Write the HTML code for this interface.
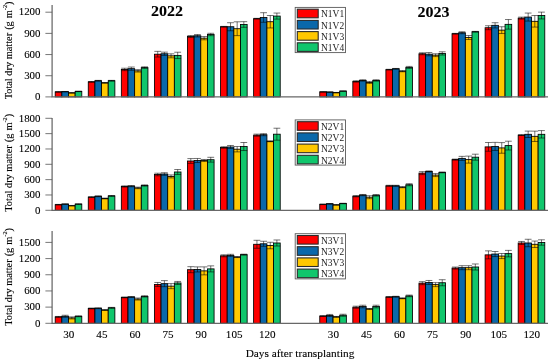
<!DOCTYPE html>
<html><head><meta charset="utf-8"><title>Total dry matter</title>
<style>html,body{margin:0;padding:0;background:#fff}svg{display:block}</style></head>
<body>
<svg width="550" height="361" viewBox="0 0 550 361" font-family="Liberation Serif, Times New Roman, serif">
<rect width="550" height="361" fill="#fff"/>
<rect x="55.20" y="91.89" width="6.65" height="5.01" fill="#ff0000" stroke="#000" stroke-width="0.85"/>
<rect x="61.85" y="91.68" width="6.65" height="5.22" fill="#0a68aa" stroke="#000" stroke-width="0.85"/>
<rect x="68.50" y="92.88" width="6.65" height="4.02" fill="#ffc800" stroke="#000" stroke-width="0.85"/>
<rect x="75.15" y="91.39" width="6.65" height="5.51" fill="#10c66c" stroke="#000" stroke-width="0.85"/>
<path d="M58.53 91.68V92.10M55.13 91.68H61.93M55.13 92.10H61.93" stroke="#000" stroke-width="0.55" fill="none"/>
<path d="M65.17 91.47V91.89M61.77 91.47H68.58M61.77 91.89H68.58" stroke="#000" stroke-width="0.55" fill="none"/>
<path d="M71.83 92.67V93.09M68.42 92.67H75.23M68.42 93.09H75.23" stroke="#000" stroke-width="0.55" fill="none"/>
<path d="M78.48 91.18V91.61M75.08 91.18H81.88M75.08 91.61H81.88" stroke="#000" stroke-width="0.55" fill="none"/>
<rect x="88.27" y="81.87" width="6.65" height="15.03" fill="#ff0000" stroke="#000" stroke-width="0.85"/>
<rect x="94.92" y="80.74" width="6.65" height="16.16" fill="#0a68aa" stroke="#000" stroke-width="0.85"/>
<rect x="101.57" y="82.85" width="6.65" height="14.05" fill="#ffc800" stroke="#000" stroke-width="0.85"/>
<rect x="108.22" y="80.74" width="6.65" height="16.16" fill="#10c66c" stroke="#000" stroke-width="0.85"/>
<path d="M91.59 81.51V82.22M88.19 81.51H95.00M88.19 82.22H95.00" stroke="#000" stroke-width="0.55" fill="none"/>
<path d="M98.25 80.38V81.09M94.84 80.38H101.65M94.84 81.09H101.65" stroke="#000" stroke-width="0.55" fill="none"/>
<path d="M104.89 82.50V83.21M101.49 82.50H108.30M101.49 83.21H108.30" stroke="#000" stroke-width="0.55" fill="none"/>
<path d="M111.55 80.38V81.09M108.14 80.38H114.95M108.14 81.09H114.95" stroke="#000" stroke-width="0.55" fill="none"/>
<rect x="121.34" y="69.44" width="6.65" height="27.46" fill="#ff0000" stroke="#000" stroke-width="0.85"/>
<rect x="127.99" y="68.67" width="6.65" height="28.23" fill="#0a68aa" stroke="#000" stroke-width="0.85"/>
<rect x="134.64" y="70.85" width="6.65" height="26.05" fill="#ffc800" stroke="#000" stroke-width="0.85"/>
<rect x="141.29" y="67.61" width="6.65" height="29.29" fill="#10c66c" stroke="#000" stroke-width="0.85"/>
<path d="M124.66 68.24V70.64M121.26 68.24H128.06M121.26 70.64H128.06" stroke="#000" stroke-width="0.55" fill="none"/>
<path d="M131.31 67.04V70.29M127.91 67.04H134.72M127.91 70.29H134.72" stroke="#000" stroke-width="0.55" fill="none"/>
<path d="M137.96 69.65V72.05M134.56 69.65H141.36M134.56 72.05H141.36" stroke="#000" stroke-width="0.55" fill="none"/>
<path d="M144.61 66.83V68.38M141.21 66.83H148.01M141.21 68.38H148.01" stroke="#000" stroke-width="0.55" fill="none"/>
<rect x="154.41" y="54.20" width="6.65" height="42.70" fill="#ff0000" stroke="#000" stroke-width="0.85"/>
<rect x="161.06" y="53.77" width="6.65" height="43.13" fill="#0a68aa" stroke="#000" stroke-width="0.85"/>
<rect x="167.71" y="55.82" width="6.65" height="41.08" fill="#ffc800" stroke="#000" stroke-width="0.85"/>
<rect x="174.36" y="55.40" width="6.65" height="41.50" fill="#10c66c" stroke="#000" stroke-width="0.85"/>
<path d="M157.73 51.37V57.02M154.33 51.37H161.13M154.33 57.02H161.13" stroke="#000" stroke-width="0.55" fill="none"/>
<path d="M164.38 52.15V55.40M160.98 52.15H167.78M160.98 55.40H167.78" stroke="#000" stroke-width="0.55" fill="none"/>
<path d="M171.03 53.84V57.80M167.63 53.84H174.44M167.63 57.80H174.44" stroke="#000" stroke-width="0.55" fill="none"/>
<path d="M177.69 52.22V58.57M174.28 52.22H181.09M174.28 58.57H181.09" stroke="#000" stroke-width="0.55" fill="none"/>
<rect x="187.48" y="36.55" width="6.65" height="60.35" fill="#ff0000" stroke="#000" stroke-width="0.85"/>
<rect x="194.13" y="35.77" width="6.65" height="61.13" fill="#0a68aa" stroke="#000" stroke-width="0.85"/>
<rect x="200.78" y="38.17" width="6.65" height="58.73" fill="#ffc800" stroke="#000" stroke-width="0.85"/>
<rect x="207.43" y="34.50" width="6.65" height="62.40" fill="#10c66c" stroke="#000" stroke-width="0.85"/>
<path d="M190.80 35.56V37.54M187.40 35.56H194.20M187.40 37.54H194.20" stroke="#000" stroke-width="0.55" fill="none"/>
<path d="M197.45 34.57V36.97M194.05 34.57H200.85M194.05 36.97H200.85" stroke="#000" stroke-width="0.55" fill="none"/>
<path d="M204.10 36.55V39.80M200.70 36.55H207.50M200.70 39.80H207.50" stroke="#000" stroke-width="0.55" fill="none"/>
<path d="M210.75 33.30V35.70M207.35 33.30H214.16M207.35 35.70H214.16" stroke="#000" stroke-width="0.55" fill="none"/>
<rect x="220.55" y="26.74" width="6.65" height="70.16" fill="#ff0000" stroke="#000" stroke-width="0.85"/>
<rect x="227.20" y="26.74" width="6.65" height="70.16" fill="#0a68aa" stroke="#000" stroke-width="0.85"/>
<rect x="233.85" y="28.72" width="6.65" height="68.18" fill="#ffc800" stroke="#000" stroke-width="0.85"/>
<rect x="240.50" y="24.48" width="6.65" height="72.42" fill="#10c66c" stroke="#000" stroke-width="0.85"/>
<path d="M223.87 26.39V27.09M220.47 26.39H227.27M220.47 27.09H227.27" stroke="#000" stroke-width="0.55" fill="none"/>
<path d="M230.52 22.72V30.76M227.12 22.72H233.92M227.12 30.76H233.92" stroke="#000" stroke-width="0.55" fill="none"/>
<path d="M237.17 21.80V35.63M233.77 21.80H240.57M233.77 35.63H240.57" stroke="#000" stroke-width="0.55" fill="none"/>
<path d="M243.82 21.66V27.30M240.42 21.66H247.22M240.42 27.30H247.22" stroke="#000" stroke-width="0.55" fill="none"/>
<rect x="253.62" y="18.69" width="6.65" height="78.21" fill="#ff0000" stroke="#000" stroke-width="0.85"/>
<rect x="260.27" y="17.49" width="6.65" height="79.41" fill="#0a68aa" stroke="#000" stroke-width="0.85"/>
<rect x="266.92" y="21.73" width="6.65" height="75.17" fill="#ffc800" stroke="#000" stroke-width="0.85"/>
<rect x="273.57" y="16.08" width="6.65" height="80.82" fill="#10c66c" stroke="#000" stroke-width="0.85"/>
<path d="M256.94 18.34V19.05M253.54 18.34H260.34M253.54 19.05H260.34" stroke="#000" stroke-width="0.55" fill="none"/>
<path d="M263.59 12.69V22.29M260.19 12.69H266.99M260.19 22.29H266.99" stroke="#000" stroke-width="0.55" fill="none"/>
<path d="M270.25 15.52V27.94M266.85 15.52H273.64M266.85 27.94H273.64" stroke="#000" stroke-width="0.55" fill="none"/>
<path d="M276.89 13.05V19.12M273.50 13.05H280.29M273.50 19.12H280.29" stroke="#000" stroke-width="0.55" fill="none"/>
<rect x="319.76" y="91.89" width="6.65" height="5.01" fill="#ff0000" stroke="#000" stroke-width="0.85"/>
<rect x="326.41" y="92.10" width="6.65" height="4.80" fill="#0a68aa" stroke="#000" stroke-width="0.85"/>
<rect x="333.06" y="92.67" width="6.65" height="4.23" fill="#ffc800" stroke="#000" stroke-width="0.85"/>
<rect x="339.71" y="91.11" width="6.65" height="5.79" fill="#10c66c" stroke="#000" stroke-width="0.85"/>
<path d="M323.08 91.68V92.10M319.69 91.68H326.48M319.69 92.10H326.48" stroke="#000" stroke-width="0.55" fill="none"/>
<path d="M329.73 91.89V92.31M326.33 91.89H333.13M326.33 92.31H333.13" stroke="#000" stroke-width="0.55" fill="none"/>
<path d="M336.38 92.45V92.88M332.99 92.45H339.78M332.99 92.88H339.78" stroke="#000" stroke-width="0.55" fill="none"/>
<path d="M343.03 90.90V91.32M339.63 90.90H346.43M339.63 91.32H346.43" stroke="#000" stroke-width="0.55" fill="none"/>
<rect x="352.83" y="81.44" width="6.65" height="15.46" fill="#ff0000" stroke="#000" stroke-width="0.85"/>
<rect x="359.48" y="80.45" width="6.65" height="16.45" fill="#0a68aa" stroke="#000" stroke-width="0.85"/>
<rect x="366.13" y="82.43" width="6.65" height="14.47" fill="#ffc800" stroke="#000" stroke-width="0.85"/>
<rect x="372.78" y="80.45" width="6.65" height="16.45" fill="#10c66c" stroke="#000" stroke-width="0.85"/>
<path d="M356.15 80.74V82.15M352.75 80.74H359.55M352.75 82.15H359.55" stroke="#000" stroke-width="0.55" fill="none"/>
<path d="M362.80 79.75V81.16M359.40 79.75H366.20M359.40 81.16H366.20" stroke="#000" stroke-width="0.55" fill="none"/>
<path d="M369.45 81.44V83.42M366.06 81.44H372.85M366.06 83.42H372.85" stroke="#000" stroke-width="0.55" fill="none"/>
<path d="M376.10 79.75V81.16M372.70 79.75H379.50M372.70 81.16H379.50" stroke="#000" stroke-width="0.55" fill="none"/>
<rect x="385.90" y="69.65" width="6.65" height="27.25" fill="#ff0000" stroke="#000" stroke-width="0.85"/>
<rect x="392.55" y="68.81" width="6.65" height="28.09" fill="#0a68aa" stroke="#000" stroke-width="0.85"/>
<rect x="399.20" y="71.21" width="6.65" height="25.69" fill="#ffc800" stroke="#000" stroke-width="0.85"/>
<rect x="405.85" y="67.40" width="6.65" height="29.50" fill="#10c66c" stroke="#000" stroke-width="0.85"/>
<path d="M389.22 69.30V70.01M385.82 69.30H392.62M385.82 70.01H392.62" stroke="#000" stroke-width="0.55" fill="none"/>
<path d="M395.87 68.45V69.16M392.47 68.45H399.27M392.47 69.16H399.27" stroke="#000" stroke-width="0.55" fill="none"/>
<path d="M402.52 70.64V71.77M399.12 70.64H405.92M399.12 71.77H405.92" stroke="#000" stroke-width="0.55" fill="none"/>
<path d="M409.17 66.41V68.38M405.77 66.41H412.57M405.77 68.38H412.57" stroke="#000" stroke-width="0.55" fill="none"/>
<rect x="418.97" y="53.77" width="6.65" height="43.13" fill="#ff0000" stroke="#000" stroke-width="0.85"/>
<rect x="425.62" y="54.20" width="6.65" height="42.70" fill="#0a68aa" stroke="#000" stroke-width="0.85"/>
<rect x="432.27" y="55.19" width="6.65" height="41.71" fill="#ffc800" stroke="#000" stroke-width="0.85"/>
<rect x="438.92" y="53.42" width="6.65" height="43.48" fill="#10c66c" stroke="#000" stroke-width="0.85"/>
<path d="M422.29 52.79V54.76M418.89 52.79H425.69M418.89 54.76H425.69" stroke="#000" stroke-width="0.55" fill="none"/>
<path d="M428.94 52.57V55.82M425.54 52.57H432.34M425.54 55.82H432.34" stroke="#000" stroke-width="0.55" fill="none"/>
<path d="M435.59 53.77V56.60M432.19 53.77H438.99M432.19 56.60H438.99" stroke="#000" stroke-width="0.55" fill="none"/>
<path d="M442.24 51.80V55.04M438.84 51.80H445.64M438.84 55.04H445.64" stroke="#000" stroke-width="0.55" fill="none"/>
<rect x="452.04" y="33.73" width="6.65" height="63.17" fill="#ff0000" stroke="#000" stroke-width="0.85"/>
<rect x="458.69" y="32.74" width="6.65" height="64.16" fill="#0a68aa" stroke="#000" stroke-width="0.85"/>
<rect x="465.34" y="37.54" width="6.65" height="59.36" fill="#ffc800" stroke="#000" stroke-width="0.85"/>
<rect x="471.99" y="31.75" width="6.65" height="65.15" fill="#10c66c" stroke="#000" stroke-width="0.85"/>
<path d="M455.37 33.38V34.08M451.97 33.38H458.76M451.97 34.08H458.76" stroke="#000" stroke-width="0.55" fill="none"/>
<path d="M462.01 31.75V33.73M458.62 31.75H465.41M458.62 33.73H465.41" stroke="#000" stroke-width="0.55" fill="none"/>
<path d="M468.67 35.56V39.52M465.27 35.56H472.06M465.27 39.52H472.06" stroke="#000" stroke-width="0.55" fill="none"/>
<path d="M475.31 31.40V32.10M471.92 31.40H478.71M471.92 32.10H478.71" stroke="#000" stroke-width="0.55" fill="none"/>
<rect x="485.11" y="27.73" width="6.65" height="69.17" fill="#ff0000" stroke="#000" stroke-width="0.85"/>
<rect x="491.76" y="25.33" width="6.65" height="71.57" fill="#0a68aa" stroke="#000" stroke-width="0.85"/>
<rect x="498.41" y="30.13" width="6.65" height="66.77" fill="#ffc800" stroke="#000" stroke-width="0.85"/>
<rect x="505.06" y="24.34" width="6.65" height="72.56" fill="#10c66c" stroke="#000" stroke-width="0.85"/>
<path d="M488.44 25.75V29.70M485.04 25.75H491.83M485.04 29.70H491.83" stroke="#000" stroke-width="0.55" fill="none"/>
<path d="M495.08 22.72V27.94M491.69 22.72H498.48M491.69 27.94H498.48" stroke="#000" stroke-width="0.55" fill="none"/>
<path d="M501.74 26.74V33.52M498.34 26.74H505.13M498.34 33.52H505.13" stroke="#000" stroke-width="0.55" fill="none"/>
<path d="M508.38 19.54V29.14M504.99 19.54H511.78M504.99 29.14H511.78" stroke="#000" stroke-width="0.55" fill="none"/>
<rect x="518.18" y="18.13" width="6.65" height="78.77" fill="#ff0000" stroke="#000" stroke-width="0.85"/>
<rect x="524.83" y="17.07" width="6.65" height="79.83" fill="#0a68aa" stroke="#000" stroke-width="0.85"/>
<rect x="531.48" y="21.31" width="6.65" height="75.59" fill="#ffc800" stroke="#000" stroke-width="0.85"/>
<rect x="538.13" y="15.52" width="6.65" height="81.38" fill="#10c66c" stroke="#000" stroke-width="0.85"/>
<path d="M521.51 17.14V19.12M518.11 17.14H524.91M518.11 19.12H524.91" stroke="#000" stroke-width="0.55" fill="none"/>
<path d="M528.16 13.05V21.09M524.76 13.05H531.56M524.76 21.09H531.56" stroke="#000" stroke-width="0.55" fill="none"/>
<path d="M534.81 15.52V27.09M531.41 15.52H538.21M531.41 27.09H538.21" stroke="#000" stroke-width="0.55" fill="none"/>
<path d="M541.46 12.13V18.91M538.06 12.13H544.86M538.06 18.91H544.86" stroke="#000" stroke-width="0.55" fill="none"/>
<path d="M52.1 5.0V96.9H548" stroke="#686868" stroke-width="1.25" fill="none"/>
<path d="M45.40 96.90H52.1" stroke="#555" stroke-width="0.8" fill="none"/>
<text transform="translate(40.50 100.10) scale(1.0 1)" font-size="10.9" text-anchor="end" fill="#000" stroke="#000" stroke-width="0.1">0</text>
<path d="M45.40 75.73H52.1" stroke="#555" stroke-width="0.8" fill="none"/>
<text transform="translate(40.50 78.93) scale(1.0 1)" font-size="10.9" text-anchor="end" fill="#000" stroke="#000" stroke-width="0.1">300</text>
<path d="M45.40 54.55H52.1" stroke="#555" stroke-width="0.8" fill="none"/>
<text transform="translate(40.50 57.75) scale(1.0 1)" font-size="10.9" text-anchor="end" fill="#000" stroke="#000" stroke-width="0.1">600</text>
<path d="M45.40 33.38H52.1" stroke="#555" stroke-width="0.8" fill="none"/>
<text transform="translate(40.50 36.58) scale(1.0 1)" font-size="10.9" text-anchor="end" fill="#000" stroke="#000" stroke-width="0.1">900</text>
<path d="M45.40 12.20H52.1" stroke="#555" stroke-width="0.8" fill="none"/>
<text transform="translate(40.50 15.40) scale(1.0 1)" font-size="10.9" text-anchor="end" fill="#000" stroke="#000" stroke-width="0.1">1200</text>
<text transform="translate(12.1 50.45) rotate(-90)" font-size="10.35" text-anchor="middle" fill="#000" stroke="#000" stroke-width="0.1">Total dry matter<tspan dx="0.45"> (g</tspan><tspan dx="0.45"> m</tspan><tspan font-size="6.2" dy="-4.8">-2</tspan><tspan dy="4.8">)</tspan></text>
<rect x="295.2" y="7.4" width="50.3" height="45.2" fill="#fff" stroke="#5a5a5a" stroke-width="0.9"/>
<rect x="297.3" y="9.20" width="20.9" height="8.6" fill="#ff0000" stroke="#2a2a2a" stroke-width="1.1"/>
<text transform="translate(321.00 17.40) scale(1.01 1)" font-size="9.4" text-anchor="start" fill="#1c1c1c" stroke="#1c1c1c" stroke-width="0">N1V1</text>
<rect x="297.3" y="20.40" width="20.9" height="8.6" fill="#0a68aa" stroke="#2a2a2a" stroke-width="1.1"/>
<text transform="translate(321.00 28.60) scale(1.01 1)" font-size="9.4" text-anchor="start" fill="#1c1c1c" stroke="#1c1c1c" stroke-width="0">N1V2</text>
<rect x="297.3" y="31.60" width="20.9" height="8.6" fill="#ffc800" stroke="#2a2a2a" stroke-width="1.1"/>
<text transform="translate(321.00 39.80) scale(1.01 1)" font-size="9.4" text-anchor="start" fill="#1c1c1c" stroke="#1c1c1c" stroke-width="0">N1V3</text>
<rect x="297.3" y="42.80" width="20.9" height="8.6" fill="#10c66c" stroke="#2a2a2a" stroke-width="1.1"/>
<text transform="translate(321.00 51.00) scale(1.01 1)" font-size="9.4" text-anchor="start" fill="#1c1c1c" stroke="#1c1c1c" stroke-width="0">N1V4</text>
<rect x="55.20" y="204.68" width="6.65" height="5.62" fill="#ff0000" stroke="#000" stroke-width="0.85"/>
<rect x="61.85" y="204.11" width="6.65" height="6.19" fill="#0a68aa" stroke="#000" stroke-width="0.85"/>
<rect x="68.50" y="205.71" width="6.65" height="4.59" fill="#ffc800" stroke="#000" stroke-width="0.85"/>
<rect x="75.15" y="204.11" width="6.65" height="6.19" fill="#10c66c" stroke="#000" stroke-width="0.85"/>
<path d="M58.53 204.42V204.94M55.13 204.42H61.93M55.13 204.94H61.93" stroke="#000" stroke-width="0.55" fill="none"/>
<path d="M65.17 203.85V204.37M61.77 203.85H68.58M61.77 204.37H68.58" stroke="#000" stroke-width="0.55" fill="none"/>
<path d="M71.83 205.45V205.97M68.42 205.45H75.23M68.42 205.97H75.23" stroke="#000" stroke-width="0.55" fill="none"/>
<path d="M78.48 203.85V204.37M75.08 203.85H81.88M75.08 204.37H81.88" stroke="#000" stroke-width="0.55" fill="none"/>
<rect x="88.27" y="197.10" width="6.65" height="13.20" fill="#ff0000" stroke="#000" stroke-width="0.85"/>
<rect x="94.92" y="196.28" width="6.65" height="14.02" fill="#0a68aa" stroke="#000" stroke-width="0.85"/>
<rect x="101.57" y="198.49" width="6.65" height="11.81" fill="#ffc800" stroke="#000" stroke-width="0.85"/>
<rect x="108.22" y="195.91" width="6.65" height="14.39" fill="#10c66c" stroke="#000" stroke-width="0.85"/>
<path d="M91.59 196.69V197.51M88.19 196.69H95.00M88.19 197.51H95.00" stroke="#000" stroke-width="0.55" fill="none"/>
<path d="M98.25 195.86V196.69M94.84 195.86H101.65M94.84 196.69H101.65" stroke="#000" stroke-width="0.55" fill="none"/>
<path d="M104.89 198.08V198.91M101.49 198.08H108.30M101.49 198.91H108.30" stroke="#000" stroke-width="0.55" fill="none"/>
<path d="M111.55 195.50V196.33M108.14 195.50H114.95M108.14 196.33H114.95" stroke="#000" stroke-width="0.55" fill="none"/>
<rect x="121.34" y="186.48" width="6.65" height="23.82" fill="#ff0000" stroke="#000" stroke-width="0.85"/>
<rect x="127.99" y="186.12" width="6.65" height="24.18" fill="#0a68aa" stroke="#000" stroke-width="0.85"/>
<rect x="134.64" y="187.92" width="6.65" height="22.38" fill="#ffc800" stroke="#000" stroke-width="0.85"/>
<rect x="141.29" y="185.50" width="6.65" height="24.80" fill="#10c66c" stroke="#000" stroke-width="0.85"/>
<path d="M124.66 185.86V187.10M121.26 185.86H128.06M121.26 187.10H128.06" stroke="#000" stroke-width="0.55" fill="none"/>
<path d="M131.31 185.50V186.74M127.91 185.50H134.72M127.91 186.74H134.72" stroke="#000" stroke-width="0.55" fill="none"/>
<path d="M137.96 187.15V188.70M134.56 187.15H141.36M134.56 188.70H141.36" stroke="#000" stroke-width="0.55" fill="none"/>
<path d="M144.61 184.88V186.12M141.21 184.88H148.01M141.21 186.12H148.01" stroke="#000" stroke-width="0.55" fill="none"/>
<rect x="154.41" y="174.52" width="6.65" height="35.78" fill="#ff0000" stroke="#000" stroke-width="0.85"/>
<rect x="161.06" y="174.00" width="6.65" height="36.30" fill="#0a68aa" stroke="#000" stroke-width="0.85"/>
<rect x="167.71" y="176.42" width="6.65" height="33.88" fill="#ffc800" stroke="#000" stroke-width="0.85"/>
<rect x="174.36" y="171.99" width="6.65" height="38.31" fill="#10c66c" stroke="#000" stroke-width="0.85"/>
<path d="M157.73 173.23V175.81M154.33 173.23H161.13M154.33 175.81H161.13" stroke="#000" stroke-width="0.55" fill="none"/>
<path d="M164.38 172.71V175.29M160.98 172.71H167.78M160.98 175.29H167.78" stroke="#000" stroke-width="0.55" fill="none"/>
<path d="M171.03 174.93V177.92M167.63 174.93H174.44M167.63 177.92H174.44" stroke="#000" stroke-width="0.55" fill="none"/>
<path d="M177.69 169.52V174.47M174.28 169.52H181.09M174.28 174.47H181.09" stroke="#000" stroke-width="0.55" fill="none"/>
<rect x="187.48" y="161.01" width="6.65" height="49.29" fill="#ff0000" stroke="#000" stroke-width="0.85"/>
<rect x="194.13" y="160.49" width="6.65" height="49.81" fill="#0a68aa" stroke="#000" stroke-width="0.85"/>
<rect x="200.78" y="160.49" width="6.65" height="49.81" fill="#ffc800" stroke="#000" stroke-width="0.85"/>
<rect x="207.43" y="159.72" width="6.65" height="50.58" fill="#10c66c" stroke="#000" stroke-width="0.85"/>
<path d="M190.80 158.58V163.43M187.40 158.58H194.20M187.40 163.43H194.20" stroke="#000" stroke-width="0.55" fill="none"/>
<path d="M197.45 158.48V162.50M194.05 158.48H200.85M194.05 162.50H200.85" stroke="#000" stroke-width="0.55" fill="none"/>
<path d="M204.10 159.46V161.52M200.70 159.46H207.50M200.70 161.52H207.50" stroke="#000" stroke-width="0.55" fill="none"/>
<path d="M210.75 157.30V162.14M207.35 157.30H214.16M207.35 162.14H214.16" stroke="#000" stroke-width="0.55" fill="none"/>
<rect x="220.55" y="147.50" width="6.65" height="62.80" fill="#ff0000" stroke="#000" stroke-width="0.85"/>
<rect x="227.20" y="146.98" width="6.65" height="63.32" fill="#0a68aa" stroke="#000" stroke-width="0.85"/>
<rect x="233.85" y="149.20" width="6.65" height="61.10" fill="#ffc800" stroke="#000" stroke-width="0.85"/>
<rect x="240.50" y="146.52" width="6.65" height="63.78" fill="#10c66c" stroke="#000" stroke-width="0.85"/>
<path d="M223.87 146.73V148.27M220.47 146.73H227.27M220.47 148.27H227.27" stroke="#000" stroke-width="0.55" fill="none"/>
<path d="M230.52 145.49V148.48M227.12 145.49H233.92M227.12 148.48H233.92" stroke="#000" stroke-width="0.55" fill="none"/>
<path d="M237.17 146.52V151.88M233.77 146.52H240.57M233.77 151.88H240.57" stroke="#000" stroke-width="0.55" fill="none"/>
<path d="M243.82 142.50V150.54M240.42 142.50H247.22M240.42 150.54H247.22" stroke="#000" stroke-width="0.55" fill="none"/>
<rect x="253.62" y="135.18" width="6.65" height="75.12" fill="#ff0000" stroke="#000" stroke-width="0.85"/>
<rect x="260.27" y="134.71" width="6.65" height="75.59" fill="#0a68aa" stroke="#000" stroke-width="0.85"/>
<rect x="266.92" y="141.31" width="6.65" height="68.99" fill="#ffc800" stroke="#000" stroke-width="0.85"/>
<rect x="273.57" y="134.20" width="6.65" height="76.10" fill="#10c66c" stroke="#000" stroke-width="0.85"/>
<path d="M256.94 134.14V136.21M253.54 134.14H260.34M253.54 136.21H260.34" stroke="#000" stroke-width="0.55" fill="none"/>
<path d="M263.59 133.68V135.74M260.19 133.68H266.99M260.19 135.74H266.99" stroke="#000" stroke-width="0.55" fill="none"/>
<path d="M270.25 140.90V141.72M266.85 140.90H273.64M266.85 141.72H273.64" stroke="#000" stroke-width="0.55" fill="none"/>
<path d="M276.89 128.22V140.18M273.50 128.22H280.29M273.50 140.18H280.29" stroke="#000" stroke-width="0.55" fill="none"/>
<rect x="319.76" y="204.32" width="6.65" height="5.98" fill="#ff0000" stroke="#000" stroke-width="0.85"/>
<rect x="326.41" y="203.80" width="6.65" height="6.50" fill="#0a68aa" stroke="#000" stroke-width="0.85"/>
<rect x="333.06" y="204.89" width="6.65" height="5.41" fill="#ffc800" stroke="#000" stroke-width="0.85"/>
<rect x="339.71" y="203.49" width="6.65" height="6.81" fill="#10c66c" stroke="#000" stroke-width="0.85"/>
<path d="M323.08 204.06V204.58M319.69 204.06H326.48M319.69 204.58H326.48" stroke="#000" stroke-width="0.55" fill="none"/>
<path d="M329.73 203.55V204.06M326.33 203.55H333.13M326.33 204.06H333.13" stroke="#000" stroke-width="0.55" fill="none"/>
<path d="M336.38 204.63V205.14M332.99 204.63H339.78M332.99 205.14H339.78" stroke="#000" stroke-width="0.55" fill="none"/>
<path d="M343.03 203.24V203.75M339.63 203.24H346.43M339.63 203.75H346.43" stroke="#000" stroke-width="0.55" fill="none"/>
<rect x="352.83" y="196.22" width="6.65" height="14.08" fill="#ff0000" stroke="#000" stroke-width="0.85"/>
<rect x="359.48" y="195.09" width="6.65" height="15.21" fill="#0a68aa" stroke="#000" stroke-width="0.85"/>
<rect x="366.13" y="197.20" width="6.65" height="13.10" fill="#ffc800" stroke="#000" stroke-width="0.85"/>
<rect x="372.78" y="195.30" width="6.65" height="15.00" fill="#10c66c" stroke="#000" stroke-width="0.85"/>
<path d="M356.15 195.61V196.84M352.75 195.61H359.55M352.75 196.84H359.55" stroke="#000" stroke-width="0.55" fill="none"/>
<path d="M362.80 194.47V195.71M359.40 194.47H366.20M359.40 195.71H366.20" stroke="#000" stroke-width="0.55" fill="none"/>
<path d="M369.45 195.71V198.70M366.06 195.71H372.85M366.06 198.70H372.85" stroke="#000" stroke-width="0.55" fill="none"/>
<path d="M376.10 194.52V196.07M372.70 194.52H379.50M372.70 196.07H379.50" stroke="#000" stroke-width="0.55" fill="none"/>
<rect x="385.90" y="185.81" width="6.65" height="24.49" fill="#ff0000" stroke="#000" stroke-width="0.85"/>
<rect x="392.55" y="185.81" width="6.65" height="24.49" fill="#0a68aa" stroke="#000" stroke-width="0.85"/>
<rect x="399.20" y="187.20" width="6.65" height="23.10" fill="#ffc800" stroke="#000" stroke-width="0.85"/>
<rect x="405.85" y="184.73" width="6.65" height="25.57" fill="#10c66c" stroke="#000" stroke-width="0.85"/>
<path d="M389.22 185.29V186.32M385.82 185.29H392.62M385.82 186.32H392.62" stroke="#000" stroke-width="0.55" fill="none"/>
<path d="M395.87 185.29V186.32M392.47 185.29H399.27M392.47 186.32H399.27" stroke="#000" stroke-width="0.55" fill="none"/>
<path d="M402.52 186.69V187.72M399.12 186.69H405.92M399.12 187.72H405.92" stroke="#000" stroke-width="0.55" fill="none"/>
<path d="M409.17 183.69V185.76M405.77 183.69H412.57M405.77 185.76H412.57" stroke="#000" stroke-width="0.55" fill="none"/>
<rect x="418.97" y="173.12" width="6.65" height="37.18" fill="#ff0000" stroke="#000" stroke-width="0.85"/>
<rect x="425.62" y="171.42" width="6.65" height="38.88" fill="#0a68aa" stroke="#000" stroke-width="0.85"/>
<rect x="432.27" y="175.08" width="6.65" height="35.22" fill="#ffc800" stroke="#000" stroke-width="0.85"/>
<rect x="438.92" y="172.40" width="6.65" height="37.90" fill="#10c66c" stroke="#000" stroke-width="0.85"/>
<path d="M422.29 171.63V174.62M418.89 171.63H425.69M418.89 174.62H425.69" stroke="#000" stroke-width="0.55" fill="none"/>
<path d="M428.94 170.91V171.94M425.54 170.91H432.34M425.54 171.94H432.34" stroke="#000" stroke-width="0.55" fill="none"/>
<path d="M435.59 173.59V176.58M432.19 173.59H438.99M432.19 176.58H438.99" stroke="#000" stroke-width="0.55" fill="none"/>
<path d="M442.24 171.99V172.82M438.84 171.99H445.64M438.84 172.82H445.64" stroke="#000" stroke-width="0.55" fill="none"/>
<rect x="452.04" y="159.62" width="6.65" height="50.68" fill="#ff0000" stroke="#000" stroke-width="0.85"/>
<rect x="458.69" y="158.38" width="6.65" height="51.92" fill="#0a68aa" stroke="#000" stroke-width="0.85"/>
<rect x="465.34" y="159.62" width="6.65" height="50.68" fill="#ffc800" stroke="#000" stroke-width="0.85"/>
<rect x="471.99" y="157.19" width="6.65" height="53.11" fill="#10c66c" stroke="#000" stroke-width="0.85"/>
<path d="M455.37 159.10V160.13M451.97 159.10H458.76M451.97 160.13H458.76" stroke="#000" stroke-width="0.55" fill="none"/>
<path d="M462.01 156.37V160.39M458.62 156.37H465.41M458.62 160.39H465.41" stroke="#000" stroke-width="0.55" fill="none"/>
<path d="M468.67 156.11V163.12M465.27 156.11H472.06M465.27 163.12H472.06" stroke="#000" stroke-width="0.55" fill="none"/>
<path d="M475.31 154.20V160.18M471.92 154.20H478.71M471.92 160.18H478.71" stroke="#000" stroke-width="0.55" fill="none"/>
<rect x="485.11" y="146.88" width="6.65" height="63.42" fill="#ff0000" stroke="#000" stroke-width="0.85"/>
<rect x="491.76" y="146.42" width="6.65" height="63.88" fill="#0a68aa" stroke="#000" stroke-width="0.85"/>
<rect x="498.41" y="147.91" width="6.65" height="62.39" fill="#ffc800" stroke="#000" stroke-width="0.85"/>
<rect x="505.06" y="145.59" width="6.65" height="64.71" fill="#10c66c" stroke="#000" stroke-width="0.85"/>
<path d="M488.44 142.50V151.26M485.04 142.50H491.83M485.04 151.26H491.83" stroke="#000" stroke-width="0.55" fill="none"/>
<path d="M495.08 142.39V150.44M491.69 142.39H498.48M491.69 150.44H498.48" stroke="#000" stroke-width="0.55" fill="none"/>
<path d="M501.74 142.60V153.22M498.34 142.60H505.13M498.34 153.22H505.13" stroke="#000" stroke-width="0.55" fill="none"/>
<path d="M508.38 141.21V149.97M504.99 141.21H511.78M504.99 149.97H511.78" stroke="#000" stroke-width="0.55" fill="none"/>
<rect x="518.18" y="135.12" width="6.65" height="75.18" fill="#ff0000" stroke="#000" stroke-width="0.85"/>
<rect x="524.83" y="134.30" width="6.65" height="76.00" fill="#0a68aa" stroke="#000" stroke-width="0.85"/>
<rect x="531.48" y="136.31" width="6.65" height="73.99" fill="#ffc800" stroke="#000" stroke-width="0.85"/>
<rect x="538.13" y="134.30" width="6.65" height="76.00" fill="#10c66c" stroke="#000" stroke-width="0.85"/>
<path d="M521.51 134.71V135.54M518.11 134.71H524.91M518.11 135.54H524.91" stroke="#000" stroke-width="0.55" fill="none"/>
<path d="M528.16 131.10V137.50M524.76 131.10H531.56M524.76 137.50H531.56" stroke="#000" stroke-width="0.55" fill="none"/>
<path d="M534.81 131.15V141.47M531.41 131.15H538.21M531.41 141.47H538.21" stroke="#000" stroke-width="0.55" fill="none"/>
<path d="M541.46 130.59V138.01M538.06 130.59H544.86M538.06 138.01H544.86" stroke="#000" stroke-width="0.55" fill="none"/>
<path d="M52.1 117.9V210.3H548" stroke="#686868" stroke-width="1.25" fill="none"/>
<path d="M45.40 210.30H52.1" stroke="#555" stroke-width="0.8" fill="none"/>
<text transform="translate(40.50 213.50) scale(1.0 1)" font-size="10.9" text-anchor="end" fill="#000" stroke="#000" stroke-width="0.1">0</text>
<path d="M45.40 194.97H52.1" stroke="#555" stroke-width="0.8" fill="none"/>
<text transform="translate(40.50 198.17) scale(1.0 1)" font-size="10.9" text-anchor="end" fill="#000" stroke="#000" stroke-width="0.1">300</text>
<path d="M45.40 179.63H52.1" stroke="#555" stroke-width="0.8" fill="none"/>
<text transform="translate(40.50 182.83) scale(1.0 1)" font-size="10.9" text-anchor="end" fill="#000" stroke="#000" stroke-width="0.1">600</text>
<path d="M45.40 164.30H52.1" stroke="#555" stroke-width="0.8" fill="none"/>
<text transform="translate(40.50 167.50) scale(1.0 1)" font-size="10.9" text-anchor="end" fill="#000" stroke="#000" stroke-width="0.1">900</text>
<path d="M45.40 148.97H52.1" stroke="#555" stroke-width="0.8" fill="none"/>
<text transform="translate(40.50 152.17) scale(1.0 1)" font-size="10.9" text-anchor="end" fill="#000" stroke="#000" stroke-width="0.1">1200</text>
<path d="M45.40 133.63H52.1" stroke="#555" stroke-width="0.8" fill="none"/>
<text transform="translate(40.50 136.83) scale(1.0 1)" font-size="10.9" text-anchor="end" fill="#000" stroke="#000" stroke-width="0.1">1500</text>
<path d="M45.40 118.30H52.1" stroke="#555" stroke-width="0.8" fill="none"/>
<text transform="translate(40.50 121.50) scale(1.0 1)" font-size="10.9" text-anchor="end" fill="#000" stroke="#000" stroke-width="0.1">1800</text>
<text transform="translate(12.1 162.80) rotate(-90)" font-size="10.35" text-anchor="middle" fill="#000" stroke="#000" stroke-width="0.1">Total dry matter<tspan dx="0.45"> (g</tspan><tspan dx="0.45"> m</tspan><tspan font-size="6.2" dy="-4.8">-2</tspan><tspan dy="4.8">)</tspan></text>
<rect x="295.2" y="119.9" width="50.3" height="45.2" fill="#fff" stroke="#5a5a5a" stroke-width="0.9"/>
<rect x="297.3" y="121.70" width="20.9" height="8.6" fill="#ff0000" stroke="#2a2a2a" stroke-width="1.1"/>
<text transform="translate(321.00 129.90) scale(1.01 1)" font-size="9.4" text-anchor="start" fill="#1c1c1c" stroke="#1c1c1c" stroke-width="0">N2V1</text>
<rect x="297.3" y="132.90" width="20.9" height="8.6" fill="#0a68aa" stroke="#2a2a2a" stroke-width="1.1"/>
<text transform="translate(321.00 141.10) scale(1.01 1)" font-size="9.4" text-anchor="start" fill="#1c1c1c" stroke="#1c1c1c" stroke-width="0">N2V2</text>
<rect x="297.3" y="144.10" width="20.9" height="8.6" fill="#ffc800" stroke="#2a2a2a" stroke-width="1.1"/>
<text transform="translate(321.00 152.30) scale(1.01 1)" font-size="9.4" text-anchor="start" fill="#1c1c1c" stroke="#1c1c1c" stroke-width="0">N2V3</text>
<rect x="297.3" y="155.30" width="20.9" height="8.6" fill="#10c66c" stroke="#2a2a2a" stroke-width="1.1"/>
<text transform="translate(321.00 163.50) scale(1.01 1)" font-size="9.4" text-anchor="start" fill="#1c1c1c" stroke="#1c1c1c" stroke-width="0">N2V4</text>
<rect x="55.20" y="316.88" width="6.65" height="6.42" fill="#ff0000" stroke="#000" stroke-width="0.85"/>
<rect x="61.85" y="316.29" width="6.65" height="7.01" fill="#0a68aa" stroke="#000" stroke-width="0.85"/>
<rect x="68.50" y="317.91" width="6.65" height="5.39" fill="#ffc800" stroke="#000" stroke-width="0.85"/>
<rect x="75.15" y="316.29" width="6.65" height="7.01" fill="#10c66c" stroke="#000" stroke-width="0.85"/>
<path d="M58.53 316.45V317.31M55.13 316.45H61.93M55.13 317.31H61.93" stroke="#000" stroke-width="0.55" fill="none"/>
<path d="M65.17 315.26V317.31M61.77 315.26H68.58M61.77 317.31H68.58" stroke="#000" stroke-width="0.55" fill="none"/>
<path d="M71.83 316.88V318.93M68.42 316.88H75.23M68.42 318.93H75.23" stroke="#000" stroke-width="0.55" fill="none"/>
<path d="M78.48 315.86V316.72M75.08 315.86H81.88M75.08 316.72H81.88" stroke="#000" stroke-width="0.55" fill="none"/>
<rect x="88.27" y="308.47" width="6.65" height="14.83" fill="#ff0000" stroke="#000" stroke-width="0.85"/>
<rect x="94.92" y="308.25" width="6.65" height="15.05" fill="#0a68aa" stroke="#000" stroke-width="0.85"/>
<rect x="101.57" y="310.03" width="6.65" height="13.27" fill="#ffc800" stroke="#000" stroke-width="0.85"/>
<rect x="108.22" y="307.82" width="6.65" height="15.48" fill="#10c66c" stroke="#000" stroke-width="0.85"/>
<path d="M91.59 308.04V308.90M88.19 308.04H95.00M88.19 308.90H95.00" stroke="#000" stroke-width="0.55" fill="none"/>
<path d="M98.25 307.82V308.68M94.84 307.82H101.65M94.84 308.68H101.65" stroke="#000" stroke-width="0.55" fill="none"/>
<path d="M104.89 309.60V310.46M101.49 309.60H108.30M101.49 310.46H108.30" stroke="#000" stroke-width="0.55" fill="none"/>
<path d="M111.55 307.39V308.25M108.14 307.39H114.95M108.14 308.25H114.95" stroke="#000" stroke-width="0.55" fill="none"/>
<rect x="121.34" y="297.41" width="6.65" height="25.89" fill="#ff0000" stroke="#000" stroke-width="0.85"/>
<rect x="127.99" y="296.98" width="6.65" height="26.32" fill="#0a68aa" stroke="#000" stroke-width="0.85"/>
<rect x="134.64" y="299.03" width="6.65" height="24.27" fill="#ffc800" stroke="#000" stroke-width="0.85"/>
<rect x="141.29" y="296.39" width="6.65" height="26.91" fill="#10c66c" stroke="#000" stroke-width="0.85"/>
<path d="M124.66 296.98V297.84M121.26 296.98H128.06M121.26 297.84H128.06" stroke="#000" stroke-width="0.55" fill="none"/>
<path d="M131.31 296.55V297.41M127.91 296.55H134.72M127.91 297.41H134.72" stroke="#000" stroke-width="0.55" fill="none"/>
<path d="M137.96 298.01V300.05M134.56 298.01H141.36M134.56 300.05H141.36" stroke="#000" stroke-width="0.55" fill="none"/>
<path d="M144.61 295.74V297.03M141.21 295.74H148.01M141.21 297.03H148.01" stroke="#000" stroke-width="0.55" fill="none"/>
<rect x="154.41" y="284.47" width="6.65" height="38.83" fill="#ff0000" stroke="#000" stroke-width="0.85"/>
<rect x="161.06" y="283.66" width="6.65" height="39.64" fill="#0a68aa" stroke="#000" stroke-width="0.85"/>
<rect x="167.71" y="286.14" width="6.65" height="37.16" fill="#ffc800" stroke="#000" stroke-width="0.85"/>
<rect x="174.36" y="282.96" width="6.65" height="40.34" fill="#10c66c" stroke="#000" stroke-width="0.85"/>
<path d="M157.73 282.47V286.46M154.33 282.47H161.13M154.33 286.46H161.13" stroke="#000" stroke-width="0.55" fill="none"/>
<path d="M164.38 280.64V286.68M160.98 280.64H167.78M160.98 286.68H167.78" stroke="#000" stroke-width="0.55" fill="none"/>
<path d="M171.03 283.61V288.67M167.63 283.61H174.44M167.63 288.67H174.44" stroke="#000" stroke-width="0.55" fill="none"/>
<path d="M177.69 281.45V284.47M174.28 281.45H181.09M174.28 284.47H181.09" stroke="#000" stroke-width="0.55" fill="none"/>
<rect x="187.48" y="269.69" width="6.65" height="53.61" fill="#ff0000" stroke="#000" stroke-width="0.85"/>
<rect x="194.13" y="269.42" width="6.65" height="53.88" fill="#0a68aa" stroke="#000" stroke-width="0.85"/>
<rect x="200.78" y="270.88" width="6.65" height="52.42" fill="#ffc800" stroke="#000" stroke-width="0.85"/>
<rect x="207.43" y="268.88" width="6.65" height="54.42" fill="#10c66c" stroke="#000" stroke-width="0.85"/>
<path d="M190.80 266.67V272.71M187.40 266.67H194.20M187.40 272.71H194.20" stroke="#000" stroke-width="0.55" fill="none"/>
<path d="M197.45 266.89V271.96M194.05 266.89H200.85M194.05 271.96H200.85" stroke="#000" stroke-width="0.55" fill="none"/>
<path d="M204.10 266.89V274.87M200.70 266.89H207.50M200.70 274.87H207.50" stroke="#000" stroke-width="0.55" fill="none"/>
<path d="M210.75 265.86V271.90M207.35 265.86H214.16M207.35 271.90H214.16" stroke="#000" stroke-width="0.55" fill="none"/>
<rect x="220.55" y="255.83" width="6.65" height="67.47" fill="#ff0000" stroke="#000" stroke-width="0.85"/>
<rect x="227.20" y="255.34" width="6.65" height="67.96" fill="#0a68aa" stroke="#000" stroke-width="0.85"/>
<rect x="233.85" y="257.07" width="6.65" height="66.23" fill="#ffc800" stroke="#000" stroke-width="0.85"/>
<rect x="240.50" y="254.64" width="6.65" height="68.66" fill="#10c66c" stroke="#000" stroke-width="0.85"/>
<path d="M223.87 254.80V256.85M220.47 254.80H227.27M220.47 256.85H227.27" stroke="#000" stroke-width="0.55" fill="none"/>
<path d="M230.52 254.32V256.37M227.12 254.32H233.92M227.12 256.37H233.92" stroke="#000" stroke-width="0.55" fill="none"/>
<path d="M237.17 256.58V257.56M233.77 256.58H240.57M233.77 257.56H240.57" stroke="#000" stroke-width="0.55" fill="none"/>
<path d="M243.82 254.16V255.13M240.42 254.16H247.22M240.42 255.13H247.22" stroke="#000" stroke-width="0.55" fill="none"/>
<rect x="253.62" y="244.29" width="6.65" height="79.01" fill="#ff0000" stroke="#000" stroke-width="0.85"/>
<rect x="260.27" y="243.80" width="6.65" height="79.50" fill="#0a68aa" stroke="#000" stroke-width="0.85"/>
<rect x="266.92" y="245.53" width="6.65" height="77.77" fill="#ffc800" stroke="#000" stroke-width="0.85"/>
<rect x="273.57" y="242.99" width="6.65" height="80.31" fill="#10c66c" stroke="#000" stroke-width="0.85"/>
<path d="M256.94 240.30V248.28M253.54 240.30H260.34M253.54 248.28H260.34" stroke="#000" stroke-width="0.55" fill="none"/>
<path d="M263.59 241.27V246.34M260.19 241.27H266.99M260.19 246.34H266.99" stroke="#000" stroke-width="0.55" fill="none"/>
<path d="M270.25 242.29V248.76M266.85 242.29H273.64M266.85 248.76H273.64" stroke="#000" stroke-width="0.55" fill="none"/>
<path d="M276.89 239.97V246.01M273.50 239.97H280.29M273.50 246.01H280.29" stroke="#000" stroke-width="0.55" fill="none"/>
<rect x="319.76" y="316.07" width="6.65" height="7.23" fill="#ff0000" stroke="#000" stroke-width="0.85"/>
<rect x="326.41" y="315.48" width="6.65" height="7.82" fill="#0a68aa" stroke="#000" stroke-width="0.85"/>
<rect x="333.06" y="316.88" width="6.65" height="6.42" fill="#ffc800" stroke="#000" stroke-width="0.85"/>
<rect x="339.71" y="315.26" width="6.65" height="8.04" fill="#10c66c" stroke="#000" stroke-width="0.85"/>
<path d="M323.08 315.64V316.50M319.69 315.64H326.48M319.69 316.50H326.48" stroke="#000" stroke-width="0.55" fill="none"/>
<path d="M329.73 314.45V316.50M326.33 314.45H333.13M326.33 316.50H333.13" stroke="#000" stroke-width="0.55" fill="none"/>
<path d="M336.38 316.45V317.31M332.99 316.45H339.78M332.99 317.31H339.78" stroke="#000" stroke-width="0.55" fill="none"/>
<path d="M343.03 314.24V316.29M339.63 314.24H346.43M339.63 316.29H346.43" stroke="#000" stroke-width="0.55" fill="none"/>
<rect x="352.83" y="307.23" width="6.65" height="16.07" fill="#ff0000" stroke="#000" stroke-width="0.85"/>
<rect x="359.48" y="306.53" width="6.65" height="16.77" fill="#0a68aa" stroke="#000" stroke-width="0.85"/>
<rect x="366.13" y="308.95" width="6.65" height="14.35" fill="#ffc800" stroke="#000" stroke-width="0.85"/>
<rect x="372.78" y="306.53" width="6.65" height="16.77" fill="#10c66c" stroke="#000" stroke-width="0.85"/>
<path d="M356.15 306.20V308.25M352.75 306.20H359.55M352.75 308.25H359.55" stroke="#000" stroke-width="0.55" fill="none"/>
<path d="M362.80 305.23V307.82M359.40 305.23H366.20M359.40 307.82H366.20" stroke="#000" stroke-width="0.55" fill="none"/>
<path d="M369.45 308.52V309.39M366.06 308.52H372.85M366.06 309.39H372.85" stroke="#000" stroke-width="0.55" fill="none"/>
<path d="M376.10 305.23V307.82M372.70 305.23H379.50M372.70 307.82H379.50" stroke="#000" stroke-width="0.55" fill="none"/>
<rect x="385.90" y="296.98" width="6.65" height="26.32" fill="#ff0000" stroke="#000" stroke-width="0.85"/>
<rect x="392.55" y="296.71" width="6.65" height="26.59" fill="#0a68aa" stroke="#000" stroke-width="0.85"/>
<rect x="399.20" y="298.33" width="6.65" height="24.97" fill="#ffc800" stroke="#000" stroke-width="0.85"/>
<rect x="405.85" y="295.90" width="6.65" height="27.40" fill="#10c66c" stroke="#000" stroke-width="0.85"/>
<path d="M389.22 296.55V297.41M385.82 296.55H392.62M385.82 297.41H392.62" stroke="#000" stroke-width="0.55" fill="none"/>
<path d="M395.87 296.28V297.14M392.47 296.28H399.27M392.47 297.14H399.27" stroke="#000" stroke-width="0.55" fill="none"/>
<path d="M402.52 297.90V298.76M399.12 297.90H405.92M399.12 298.76H405.92" stroke="#000" stroke-width="0.55" fill="none"/>
<path d="M409.17 295.09V296.71M405.77 295.09H412.57M405.77 296.71H412.57" stroke="#000" stroke-width="0.55" fill="none"/>
<rect x="418.97" y="283.17" width="6.65" height="40.13" fill="#ff0000" stroke="#000" stroke-width="0.85"/>
<rect x="425.62" y="282.47" width="6.65" height="40.83" fill="#0a68aa" stroke="#000" stroke-width="0.85"/>
<rect x="432.27" y="284.63" width="6.65" height="38.67" fill="#ffc800" stroke="#000" stroke-width="0.85"/>
<rect x="438.92" y="282.74" width="6.65" height="40.56" fill="#10c66c" stroke="#000" stroke-width="0.85"/>
<path d="M422.29 281.66V284.68M418.89 281.66H425.69M418.89 284.68H425.69" stroke="#000" stroke-width="0.55" fill="none"/>
<path d="M428.94 280.48V284.47M425.54 280.48H432.34M425.54 284.47H432.34" stroke="#000" stroke-width="0.55" fill="none"/>
<path d="M435.59 282.63V286.63M432.19 282.63H438.99M432.19 286.63H438.99" stroke="#000" stroke-width="0.55" fill="none"/>
<path d="M442.24 279.72V285.76M438.84 279.72H445.64M438.84 285.76H445.64" stroke="#000" stroke-width="0.55" fill="none"/>
<rect x="452.04" y="268.07" width="6.65" height="55.23" fill="#ff0000" stroke="#000" stroke-width="0.85"/>
<rect x="458.69" y="267.69" width="6.65" height="55.61" fill="#0a68aa" stroke="#000" stroke-width="0.85"/>
<rect x="465.34" y="267.69" width="6.65" height="55.61" fill="#ffc800" stroke="#000" stroke-width="0.85"/>
<rect x="471.99" y="266.99" width="6.65" height="56.31" fill="#10c66c" stroke="#000" stroke-width="0.85"/>
<path d="M455.37 267.05V269.10M451.97 267.05H458.76M451.97 269.10H458.76" stroke="#000" stroke-width="0.55" fill="none"/>
<path d="M462.01 265.70V269.69M458.62 265.70H465.41M458.62 269.69H465.41" stroke="#000" stroke-width="0.55" fill="none"/>
<path d="M468.67 265.70V269.69M465.27 265.70H472.06M465.27 269.69H472.06" stroke="#000" stroke-width="0.55" fill="none"/>
<path d="M475.31 263.97V270.01M471.92 263.97H478.71M471.92 270.01H478.71" stroke="#000" stroke-width="0.55" fill="none"/>
<rect x="485.11" y="254.86" width="6.65" height="68.44" fill="#ff0000" stroke="#000" stroke-width="0.85"/>
<rect x="491.76" y="254.05" width="6.65" height="69.25" fill="#0a68aa" stroke="#000" stroke-width="0.85"/>
<rect x="498.41" y="256.05" width="6.65" height="67.25" fill="#ffc800" stroke="#000" stroke-width="0.85"/>
<rect x="505.06" y="253.62" width="6.65" height="69.68" fill="#10c66c" stroke="#000" stroke-width="0.85"/>
<path d="M488.44 250.87V258.85M485.04 250.87H491.83M485.04 258.85H491.83" stroke="#000" stroke-width="0.55" fill="none"/>
<path d="M495.08 251.51V256.58M491.69 251.51H498.48M491.69 256.58H498.48" stroke="#000" stroke-width="0.55" fill="none"/>
<path d="M501.74 253.51V258.58M498.34 253.51H505.13M498.34 258.58H505.13" stroke="#000" stroke-width="0.55" fill="none"/>
<path d="M508.38 250.38V256.85M504.99 250.38H511.78M504.99 256.85H511.78" stroke="#000" stroke-width="0.55" fill="none"/>
<rect x="518.18" y="242.99" width="6.65" height="80.31" fill="#ff0000" stroke="#000" stroke-width="0.85"/>
<rect x="524.83" y="242.99" width="6.65" height="80.31" fill="#0a68aa" stroke="#000" stroke-width="0.85"/>
<rect x="531.48" y="244.29" width="6.65" height="79.01" fill="#ffc800" stroke="#000" stroke-width="0.85"/>
<rect x="538.13" y="242.51" width="6.65" height="80.79" fill="#10c66c" stroke="#000" stroke-width="0.85"/>
<path d="M521.51 241.48V244.50M518.11 241.48H524.91M518.11 244.50H524.91" stroke="#000" stroke-width="0.55" fill="none"/>
<path d="M528.16 239.27V246.71M524.76 239.27H531.56M524.76 246.71H531.56" stroke="#000" stroke-width="0.55" fill="none"/>
<path d="M534.81 241.05V247.52M531.41 241.05H538.21M531.41 247.52H538.21" stroke="#000" stroke-width="0.55" fill="none"/>
<path d="M541.46 239.81V245.20M538.06 239.81H544.86M538.06 245.20H544.86" stroke="#000" stroke-width="0.55" fill="none"/>
<path d="M52.1 231.0V323.3H548" stroke="#686868" stroke-width="1.25" fill="none"/>
<path d="M45.40 323.30H52.1" stroke="#555" stroke-width="0.8" fill="none"/>
<text transform="translate(40.50 326.50) scale(1.0 1)" font-size="10.9" text-anchor="end" fill="#000" stroke="#000" stroke-width="0.1">0</text>
<path d="M45.40 307.12H52.1" stroke="#555" stroke-width="0.8" fill="none"/>
<text transform="translate(40.50 310.32) scale(1.0 1)" font-size="10.9" text-anchor="end" fill="#000" stroke="#000" stroke-width="0.1">300</text>
<path d="M45.40 290.94H52.1" stroke="#555" stroke-width="0.8" fill="none"/>
<text transform="translate(40.50 294.14) scale(1.0 1)" font-size="10.9" text-anchor="end" fill="#000" stroke="#000" stroke-width="0.1">600</text>
<path d="M45.40 274.76H52.1" stroke="#555" stroke-width="0.8" fill="none"/>
<text transform="translate(40.50 277.96) scale(1.0 1)" font-size="10.9" text-anchor="end" fill="#000" stroke="#000" stroke-width="0.1">900</text>
<path d="M45.40 258.58H52.1" stroke="#555" stroke-width="0.8" fill="none"/>
<text transform="translate(40.50 261.78) scale(1.0 1)" font-size="10.9" text-anchor="end" fill="#000" stroke="#000" stroke-width="0.1">1200</text>
<path d="M45.40 242.40H52.1" stroke="#555" stroke-width="0.8" fill="none"/>
<text transform="translate(40.50 245.60) scale(1.0 1)" font-size="10.9" text-anchor="end" fill="#000" stroke="#000" stroke-width="0.1">1500</text>
<text transform="translate(12.1 276.95) rotate(-90)" font-size="10.35" text-anchor="middle" fill="#000" stroke="#000" stroke-width="0.1">Total dry matter<tspan dx="0.45"> (g</tspan><tspan dx="0.45"> m</tspan><tspan font-size="6.2" dy="-4.8">-2</tspan><tspan dy="4.8">)</tspan></text>
<rect x="295.2" y="233.7" width="50.3" height="45.2" fill="#fff" stroke="#5a5a5a" stroke-width="0.9"/>
<rect x="297.3" y="235.50" width="20.9" height="8.6" fill="#ff0000" stroke="#2a2a2a" stroke-width="1.1"/>
<text transform="translate(321.00 243.70) scale(1.01 1)" font-size="9.4" text-anchor="start" fill="#1c1c1c" stroke="#1c1c1c" stroke-width="0">N3V1</text>
<rect x="297.3" y="246.70" width="20.9" height="8.6" fill="#0a68aa" stroke="#2a2a2a" stroke-width="1.1"/>
<text transform="translate(321.00 254.90) scale(1.01 1)" font-size="9.4" text-anchor="start" fill="#1c1c1c" stroke="#1c1c1c" stroke-width="0">N3V2</text>
<rect x="297.3" y="257.90" width="20.9" height="8.6" fill="#ffc800" stroke="#2a2a2a" stroke-width="1.1"/>
<text transform="translate(321.00 266.10) scale(1.01 1)" font-size="9.4" text-anchor="start" fill="#1c1c1c" stroke="#1c1c1c" stroke-width="0">N3V3</text>
<rect x="297.3" y="269.10" width="20.9" height="8.6" fill="#10c66c" stroke="#2a2a2a" stroke-width="1.1"/>
<text transform="translate(321.00 277.30) scale(1.01 1)" font-size="9.4" text-anchor="start" fill="#1c1c1c" stroke="#1c1c1c" stroke-width="0">N3V4</text>
<text transform="translate(167.00 15.80) scale(1.11 1)" font-size="14.4" text-anchor="middle" fill="#000" stroke="#000" stroke-width="0.1" font-weight="bold">2022</text>
<text transform="translate(433.50 16.60) scale(1.11 1)" font-size="14.4" text-anchor="middle" fill="#000" stroke="#000" stroke-width="0.1" font-weight="bold">2023</text>
<text transform="translate(68.85 337.90) scale(1.02 1)" font-size="10.9" text-anchor="middle" fill="#000" stroke="#000" stroke-width="0.1">30</text>
<text transform="translate(101.92 337.90) scale(1.02 1)" font-size="10.9" text-anchor="middle" fill="#000" stroke="#000" stroke-width="0.1">45</text>
<text transform="translate(134.99 337.90) scale(1.02 1)" font-size="10.9" text-anchor="middle" fill="#000" stroke="#000" stroke-width="0.1">60</text>
<text transform="translate(168.06 337.90) scale(1.02 1)" font-size="10.9" text-anchor="middle" fill="#000" stroke="#000" stroke-width="0.1">75</text>
<text transform="translate(201.13 337.90) scale(1.02 1)" font-size="10.9" text-anchor="middle" fill="#000" stroke="#000" stroke-width="0.1">90</text>
<text transform="translate(234.20 337.90) scale(1.02 1)" font-size="10.9" text-anchor="middle" fill="#000" stroke="#000" stroke-width="0.1">105</text>
<text transform="translate(267.27 337.90) scale(1.02 1)" font-size="10.9" text-anchor="middle" fill="#000" stroke="#000" stroke-width="0.1">120</text>
<text transform="translate(333.41 337.90) scale(1.02 1)" font-size="10.9" text-anchor="middle" fill="#000" stroke="#000" stroke-width="0.1">30</text>
<text transform="translate(366.48 337.90) scale(1.02 1)" font-size="10.9" text-anchor="middle" fill="#000" stroke="#000" stroke-width="0.1">45</text>
<text transform="translate(399.55 337.90) scale(1.02 1)" font-size="10.9" text-anchor="middle" fill="#000" stroke="#000" stroke-width="0.1">60</text>
<text transform="translate(432.62 337.90) scale(1.02 1)" font-size="10.9" text-anchor="middle" fill="#000" stroke="#000" stroke-width="0.1">75</text>
<text transform="translate(465.69 337.90) scale(1.02 1)" font-size="10.9" text-anchor="middle" fill="#000" stroke="#000" stroke-width="0.1">90</text>
<text transform="translate(498.76 337.90) scale(1.02 1)" font-size="10.9" text-anchor="middle" fill="#000" stroke="#000" stroke-width="0.1">105</text>
<text transform="translate(531.83 337.90) scale(1.02 1)" font-size="10.9" text-anchor="middle" fill="#000" stroke="#000" stroke-width="0.1">120</text>
<text transform="translate(300.00 356.80) scale(1.012 1)" font-size="11.2" text-anchor="middle" fill="#000" stroke="#000" stroke-width="0.1">Days after transplanting</text>
</svg>
</body></html>
